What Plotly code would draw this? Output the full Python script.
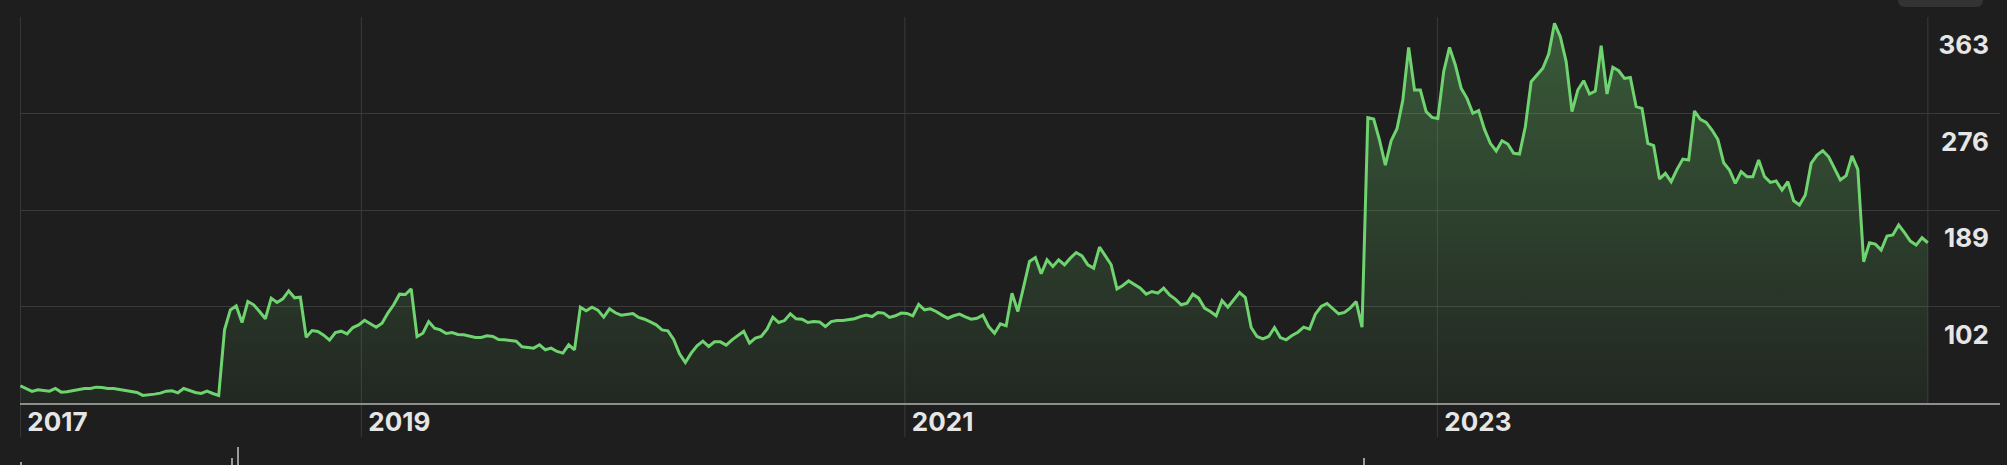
import pandas as pd
import plotly.graph_objects as go

# ---------------- data ----------------
start_date = "2017-09-25"
end_date = "2024-10-28"

prices = [
    # 2017-09 .. 2018
    30.5, 27.8, 25.4, 26.9, 26.0, 25.7, 28.1, 24.8, 25.1, 26.0,
    27.5, 28.1, 28.1, 29.3, 29.0, 28.1, 28.1, 27.2, 26.3, 25.4,
    24.5, 21.8, 22.1, 23.0, 23.9, 25.7, 26.0, 24.2, 28.1, 26.3,
    24.5, 23.6, 25.7, 23.6, 21.8, 81.0, 99.0, 102.7, 87.6, 106.6,
    103.6, 97.6, 91.0, 109.6, 105.7, 109.0, 116.2, 109.9, 110.5, 74.4,
    80.4, 79.5, 76.2, 71.7, 78.6, 79.8, 77.4,
    # 2019
    83.1, 85.5, 89.7, 86.4, 83.4, 87.0, 96.1, 103.6, 113.2, 112.9,
    118.0, 75.0, 78.0, 88.5, 82.5, 81.0, 77.7, 78.6, 76.8, 76.5,
    75.0, 74.1, 74.1, 75.6, 75.0, 72.3, 72.0, 71.7, 70.8, 65.7,
    65.1, 64.5, 67.5, 63.0, 64.5, 61.5, 60.0, 67.5, 63.0, 101.5,
    98.2, 101.5, 98.8, 92.5, 100.0, 96.4, 94.3, 94.9, 95.8, 92.2,
    90.6, 88.2, 85.5, 81.0, 80.1,
    # 2020
    72.3, 59.4, 51.5, 60.0, 66.6, 70.8, 66.0, 70.2, 70.2, 67.2,
    72.0, 75.9, 79.8, 69.0, 73.5, 75.0, 81.6, 92.5, 87.6, 89.4,
    95.5, 91.0, 90.6, 87.6, 88.5, 88.2, 84.0, 88.5, 89.4, 89.4,
    90.0, 91.0, 93.0, 94.3, 93.0, 96.7, 96.1, 92.2, 93.7, 96.1,
    95.8, 93.7, 103.9, 99.1, 100.0, 97.6, 94.3, 91.5, 93.7, 95.2,
    92.8, 90.6, 91.5, 94.3, 84.0,
    # 2021 .. 2022
    78.0, 86.4, 84.6, 114.1, 97.6, 120.1, 142.7, 146.3, 131.6, 144.2,
    138.2, 144.2, 139.7, 145.7, 150.8, 147.8, 139.7, 136.7, 155.6, 147.8,
    139.7, 118.0, 121.0, 125.2, 121.6, 118.6, 113.2, 115.6, 114.1, 118.6,
    112.6, 108.7, 103.6, 105.1, 113.2, 109.6, 100.6, 97.6, 93.7, 107.5,
    101.5, 108.1, 114.7, 110.2, 83.1, 75.0, 72.9, 75.0, 83.1, 74.0,
    72.0, 75.9, 78.9, 83.4, 81.6, 95.2, 102.1, 104.8, 100.3, 95.5,
    96.7, 100.9, 106.6, 83.4,
    # 2022 jump .. 2023
    272.4, 271.2, 252.3, 229.7, 251.7, 262.5, 288.4, 335.9, 297.4, 297.4,
    277.9, 272.7, 271.8, 313.9, 335.9, 320.0, 298.9, 289.9, 276.4, 278.8,
    261.9, 249.3, 242.4, 251.7, 248.7, 240.3, 239.7, 264.3, 304.9, 310.9,
    317.0, 329.9, 357.6, 345.5, 323.0, 277.9, 297.4, 305.8, 293.8, 296.5,
    337.4, 293.8, 317.9, 314.8, 307.9, 308.8, 282.4, 280.9,
    # 2023 .. 2024
    249.3, 247.2, 217.1, 222.2, 214.7, 225.8, 235.1, 234.2, 278.5, 270.9,
    268.2, 261.3, 252.9, 231.8, 225.2, 213.2, 223.7, 219.2, 219.2, 234.2,
    219.2, 214.1, 215.3, 207.2, 214.7, 197.5, 193.6, 202.7, 231.2, 238.7,
    242.7, 237.2, 226.1, 216.2, 220.1, 237.9, 225.8, 142.5, 159.6, 158.4,
    153.0, 165.7, 166.6, 175.6, 168.7, 161.1, 157.5, 164.1, 159.6,
]

dates = pd.date_range(start_date, end_date, periods=len(prices))

year_ticks = ["2017-09-25", "2019-01-01", "2021-01-08", "2023-01-01"]
year_labels = ["2017", "2019", "2021", "2023"]
price_ticks = [102, 189, 276, 363]
price_labels = ["102", "189", "276", "363"]

x_range = ["2017-09-24 12:00", "2025-02-03 00:00"]
y_range = [15, 363.3]

# ---------------- style ----------------
BG = "#1e1e1e"
GRID = "#3a3a3a"
AXIS = "#8e8e8e"
LINE = "#6fd36f"
TXT = "#e6e6e6"
FONT = dict(family="Inter, Roboto, sans-serif", size=26, color=TXT, weight=700)

fig = go.Figure()
fig.add_trace(go.Scatter(
    x=dates, y=prices, mode="lines",
    line=dict(color=LINE, width=3.0, shape="linear"),
    fill="tozeroy",
    fillgradient=dict(
        type="vertical",
        colorscale=[[0, "rgba(111,211,111,0.05)"], [1, "rgba(111,211,111,0.34)"]],
        start=y_range[0], stop=y_range[1],
    ),
    hoverinfo="skip",
))

shapes = []
# year tick lines extending below the axis
for t in year_ticks:
    shapes.append(dict(type="line", xref="x", yref="paper", x0=t, x1=t,
                       y0=-34 / 386, y1=1, line=dict(color=GRID, width=1), layer="below"))
# vertical line at the last data point
shapes.append(dict(type="line", xref="x", yref="paper", x0=dates[-1], x1=dates[-1],
                   y0=0, y1=1, line=dict(color=GRID, width=1), layer="below"))


# helpers: pixel -> paper coordinates (plot area 20..2000 x 17..403)
def px(xp):
    return (xp - 20) / 1980


def py(yp):
    return (403 - yp) / 386


# partially visible rounded button at top right
bx0, bx1, byb, byt, r = 1898, 1983, 7, -10, 7
path = (f"M {px(bx0)},{py(byt)} L {px(bx0)},{py(byb - r)} "
        f"Q {px(bx0)},{py(byb)} {px(bx0 + r)},{py(byb)} "
        f"L {px(bx1 - r)},{py(byb)} Q {px(bx1)},{py(byb)} {px(bx1)},{py(byb - r)} "
        f"L {px(bx1)},{py(byt)} Z")
shapes.append(dict(type="path", xref="paper", yref="paper", path=path,
                   fillcolor="#333333", line=dict(width=0)))

# partially visible marks of the panel below
for xp, ytop in [(21, 462), (232, 458), (238, 447), (1364, 458)]:
    shapes.append(dict(type="line", xref="paper", yref="paper",
                       x0=px(xp), x1=px(xp), y0=py(ytop), y1=py(470),
                       line=dict(color="#9a9a9a", width=2)))

fig.update_layout(
    width=2007, height=465,
    margin=dict(l=20, r=7, t=17, b=62),
    paper_bgcolor=BG, plot_bgcolor=BG,
    showlegend=False,
    shapes=shapes,
    xaxis=dict(
        type="date", range=x_range, automargin=False,
        tickmode="array", tickvals=year_ticks, ticktext=year_labels,
        ticklabelposition="outside right", ticklabelshift=6,
        ticks="", showgrid=False, zeroline=False,
        showline=True, linecolor=AXIS, linewidth=2,
        tickfont=FONT, ticklabelstandoff=-5,
    ),
    yaxis=dict(
        range=y_range, automargin=False, side="right",
        tickmode="array", tickvals=price_ticks, ticktext=price_labels,
        ticklabelposition="inside", ticklabelshift=28,
        ticks="", showgrid=True, gridcolor=GRID, gridwidth=1,
        zeroline=False, showline=False,
        tickfont=FONT, ticklabelstandoff=8,
    ),
)

fig.write_html(
    "out.html",
    config={"displayModeBar": False, "staticPlot": True},
    post_script="document.body.style.margin='0';document.body.style.background='#1e1e1e';"
                "document.body.style.overflow='hidden';",
)
